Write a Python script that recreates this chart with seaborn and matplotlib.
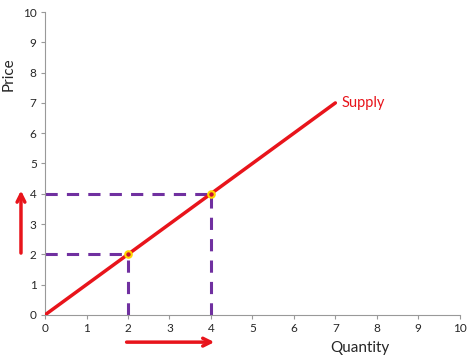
import numpy as np
import pandas as pd

import matplotlib.pyplot as plt
import seaborn as sns

sns.set_style('white')
plt.rcParams['font.family'] = ['Lato', 'DejaVu Sans']

# Supply curve and the two equilibrium points
supply_q = [0, 7]
supply_p = [0, 7]
points_q = [2, 4]
points_p = [2, 4]
ticks = list(range(0, 11))

df = pd.DataFrame({'Quantity': supply_q, 'Price': supply_p})

fig = plt.figure(figsize=(4.74, 3.55), dpi=100)
ax = fig.add_axes([0.095, 0.113, 0.875, 0.853])

# dashed guide lines
for q, p in zip(points_q, points_p):
    ax.plot([0, q], [p, p], ls=(0, (4, 3)), color='#7030a0', lw=2.2, zorder=2)
    ax.plot([q, q], [0, p], ls=(0, (4, 3)), color='#7030a0', lw=2.2, zorder=2)

sns.lineplot(data=df, x='Quantity', y='Price', color='#e8141b', lw=2.5, ax=ax, zorder=3)
ax.scatter(points_q, points_p, s=22, color='#c8102e', edgecolor='#ffd700', linewidth=1.5, zorder=4)

ax.text(7.15, 7.0, 'Supply', color='#e8141b', fontsize=10.5, va='center', ha='left')

ax.set_xlim(0, 10)
ax.set_ylim(0, 10)
ax.set_xticks(ticks)
ax.set_yticks(ticks)
ax.tick_params(axis='both', labelsize=8.5, length=3, color='#999999', direction='out',
               bottom=True, left=True, pad=3)
sns.despine(ax=ax)
for s in ['left', 'bottom']:
    ax.spines[s].set_color('#999999')
    ax.spines[s].set_linewidth(0.8)

ax.set_xlabel('')
ax.set_ylabel('')
fig.text(0.76, 0.02, 'Quantity', fontsize=11, ha='center', va='center')
fig.text(0.018, 0.79, 'Price', fontsize=11, ha='center', va='center', rotation=90)

# red arrows showing the shift
arrow = dict(arrowstyle='->', color='#e8141b', lw=2.5, mutation_scale=14)
ax.annotate('', xy=(-0.58, 4.2), xytext=(-0.58, 1.95), xycoords='data',
            arrowprops=arrow, annotation_clip=False)
ax.annotate('', xy=(4.15, -0.9), xytext=(1.9, -0.9), xycoords='data',
            arrowprops=arrow, annotation_clip=False)

fig.savefig('out.png', dpi=100)
